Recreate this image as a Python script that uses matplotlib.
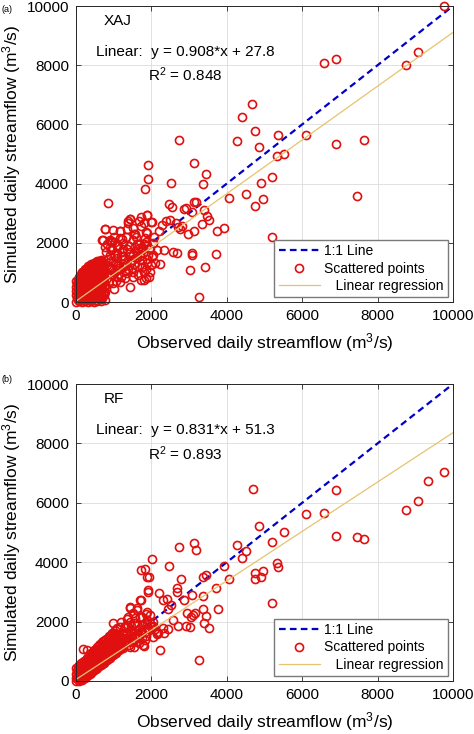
import matplotlib.pyplot as plt
import numpy as np

plt.rcParams['font.family'] = ['Liberation Sans', 'DejaVu Sans']
plt.rcParams['mathtext.default'] = 'regular'

# ---- XAJ panel: observed vs simulated daily streamflow (m3/s) ----
# dense cluster near the origin
xaj_core = [
    (10, 0), (15, 120), (5, 250), (12, 380), (8, 500), (18, 620), (10, 700),
    (85, 20), (80, 150), (90, 280), (85, 410), (78, 540), (92, 660), (85, 780), (88, 850),
    (160, 0), (165, 130), (155, 260), (162, 390), (158, 520), (170, 650), (160, 780), (150, 900), (165, 1000),
    (240, 30), (235, 160), (245, 290), (240, 420), (232, 550), (248, 680), (240, 810), (236, 940), (244, 1050), (250, 1100),
    (320, 0), (325, 130), (315, 260), (322, 390), (318, 520), (328, 650), (320, 780), (312, 910), (324, 1040), (318, 1150), (330, 1200),
    (400, 40), (395, 170), (405, 300), (400, 430), (392, 560), (408, 690), (400, 820), (396, 950), (404, 1080), (398, 1200), (410, 1280),
    (480, 10), (485, 140), (475, 270), (482, 400), (478, 530), (488, 660), (480, 790), (472, 920), (484, 1050), (478, 1180), (490, 1300), (470, 1330),
    (560, 50), (555, 180), (565, 310), (560, 440), (552, 570), (568, 700), (560, 830), (556, 960), (564, 1090), (558, 1220), (570, 1340), (550, 1400),
    (640, 100), (645, 230), (635, 360), (642, 490), (638, 620), (648, 750), (640, 880), (632, 1010), (644, 1140), (638, 1270), (650, 1400),
    (700, 150), (705, 300), (695, 450), (702, 600), (698, 750), (708, 900), (700, 1050), (692, 1200), (704, 1350),
    (760, 80), (770, 350), (775, 550),
    (45, 60), (48, 190), (42, 320), (46, 440), (44, 560), (50, 670), (45, 760),
    (120, 80), (125, 210), (118, 340), (122, 470), (120, 600), (126, 720), (118, 830), (122, 930),
    (200, 60), (205, 190), (198, 320), (202, 450), (200, 580), (206, 710), (198, 840), (204, 960), (200, 1050),
    (280, 90), (284, 220), (278, 350), (282, 480), (280, 610), (286, 740), (278, 870), (284, 990), (280, 1110),
    (360, 70), (364, 200), (358, 330), (362, 460), (360, 590), (366, 720), (358, 850), (364, 980), (360, 1100), (366, 1220),
    (440, 100), (444, 230), (438, 360), (442, 490), (440, 620), (446, 750), (438, 880), (444, 1010), (440, 1140), (446, 1250),
    (520, 80), (524, 210), (518, 340), (522, 470), (520, 600), (526, 730), (518, 860), (524, 990), (520, 1120), (526, 1250), (518, 1350),
    (600, 120), (604, 250), (598, 380), (602, 510), (600, 640), (606, 770), (598, 900), (604, 1030), (600, 1160), (606, 1290), (598, 1400),
    (670, 40), (674, 170), (668, 300), (672, 430), (670, 560), (676, 690), (668, 820), (674, 950), (670, 1080), (676, 1210), (668, 1340), (672, 1430),
    (735, 220), (738, 380), (732, 520), (736, 680), (734, 820), (740, 980), (732, 1120), (738, 1250),
]
# looser ring zone
xaj_mid = [
    (770, 2466), (699, 2095), (1168, 2399), (1389, 2658), (1434, 2793), (1681, 2725), (1726, 2860),
    (1876, 2939), (2000, 2703), (1867, 2354), (1549, 2297), (1363, 2455), (1221, 2128), (991, 2432),
    (903, 2095), (814, 1959), (947, 2038), (1106, 1892), (1257, 1802), (1434, 1700), (1566, 1869),
    (1743, 1779), (1876, 1926), (1611, 1475), (1478, 1419), (1257, 1554), (1080, 1644), (903, 1588),
    (1743, 1419), (1876, 1306), (2009, 1532), (2142, 1757), (1752, 1171), (1965, 1025), (1726, 734),
    (1858, 822), (1522, 856), (1345, 968), (1168, 687), (1434, 518), (991, 631), (1257, 1194), (1080, 1081),
    (850, 1450), (900, 1150), (950, 900), (980, 1350), (1030, 1600), (1060, 700), (1120, 1250),
    (1150, 950), (1200, 1550), (880, 700), (930, 1750), (1000, 450), (1250, 1300), (1300, 1050),
    (1350, 1800), (1420, 1550), (1480, 1150), (1550, 1300), (1620, 1650), (1680, 1950), (1100, 1900),
    (1180, 2150), (820, 1250), (860, 950), (800, 1700), (780, 1850), (950, 1150),
    (870, 1100), (920, 1400), (1000, 1000), (1050, 1300), (1100, 1500), (1150, 1150), (1200, 850),
    (1230, 1700), (1280, 1450), (1320, 1250), (1380, 1100), (1400, 1900), (1450, 1350), (1500, 1600),
    (1520, 1000), (1580, 1500), (1620, 1200), (1650, 1800), (1700, 1550), (1780, 1650), (1800, 1000),
    (1820, 2150), (1900, 1600), (1950, 1800), (1980, 1250), (2050, 1600), (1650, 900), (1300, 800),
    (1100, 850), (900, 1850), (1000, 2200), (1250, 2000), (1500, 2500), (1600, 2200),
]
# high flows / outliers
xaj_high = [
    (9770, 9990), (9071, 8435), (8752, 8018), (6584, 8074), (6903, 8209), (4681, 6689), (4407, 6250),
    (4752, 5766), (4283, 5428), (2726, 5462), (5354, 5642), (6088, 5642), (4850, 5236), (5336, 4944),
    (5522, 4989), (6885, 5349), (7637, 5462), (7442, 3592), (5204, 4223), (4912, 4032), (4956, 3491),
    (4752, 3232), (4504, 3637), (4053, 3502), (5212, 2196), (3124, 4707), (3442, 4336), (3372, 3998),
    (1920, 4640), (1903, 4167), (1832, 3829), (2513, 4032), (841, 3345), (2469, 3311), (2540, 3198),
    (3142, 3367), (3195, 3367), (3389, 3108), (2858, 3131), (2929, 3176), (3088, 3029), (3478, 2917),
    (3336, 2624), (3540, 2759), (3929, 2500), (3752, 2410), (3124, 2387), (2965, 2309), (2381, 2748),
    (2504, 2770), (2646, 2680), (2717, 2545), (2770, 2477), (2814, 2579), (3726, 1633), (3088, 1644),
    (3080, 1599), (3416, 1171), (3018, 1092), (3257, 180), (2673, 1667), (2566, 1700), (2336, 1757),
    (2239, 1284), (2097, 1306), (1947, 833), (1805, 743), (1885, 1441), (1850, 1115), (1761, 1194),
    (2283, 2601), (2204, 2399), (2080, 2185), (2053, 2005), (1885, 2342), (1850, 2016), (1814, 1971),
    (1752, 1869), (1611, 1971), (1885, 2950), (2027, 2703), (1805, 2680), (1735, 2579), (1558, 2286),
    (1381, 2725), (1434, 2815), (1168, 2387), (1327, 2196), (1504, 2106), (779, 2455), (708, 2083),
    (920, 2072), (1044, 2016), (956, 1779),
]

# ---- RF panel ----
rf_core = [
    (10, 0), (12, 110), (6, 220), (14, 330), (8, 440),
    (90, 10), (85, 130), (95, 250), (88, 370), (92, 490), (86, 550),
    (170, 30), (175, 150), (165, 270), (172, 390), (168, 510), (178, 630),
    (250, 110), (255, 230), (245, 350), (252, 470), (248, 590), (258, 720),
    (330, 200), (335, 320), (325, 440), (332, 560), (328, 680), (338, 800),
    (410, 280), (415, 400), (405, 520), (412, 640), (408, 760), (418, 880), (402, 930),
    (490, 370), (495, 490), (485, 610), (492, 730), (488, 850), (498, 970), (482, 1030),
    (570, 450), (575, 570), (565, 690), (572, 810), (568, 930), (578, 1050), (562, 1150),
    (650, 530), (655, 650), (645, 770), (652, 890), (648, 1010), (658, 1130), (642, 1250),
    (730, 620), (735, 740), (725, 860), (732, 980), (728, 1100), (738, 1220), (722, 1340),
    (810, 700), (815, 820), (805, 940), (812, 1060), (808, 1180), (818, 1300), (802, 1420),
    (890, 780), (895, 900), (885, 1020), (892, 1140), (888, 1260), (898, 1380), (882, 1500),
    (970, 870), (975, 990), (965, 1110), (972, 1230), (968, 1350), (978, 1470), (962, 1580),
    (1050, 950), (1055, 1070), (1045, 1190), (1052, 1310), (1048, 1430), (1058, 1550),
    (1130, 1040), (1135, 1160), (1125, 1280), (1132, 1400), (1128, 1500),
    (1200, 1120), (1205, 1250), (1195, 1380),
    (50, 60), (52, 170), (48, 280), (54, 390), (50, 480),
    (130, 70), (134, 190), (128, 310), (132, 430), (130, 550), (136, 600),
    (210, 90), (214, 210), (208, 330), (212, 450), (210, 570), (216, 680),
    (290, 160), (294, 280), (288, 400), (292, 520), (290, 640), (296, 760),
    (370, 240), (374, 360), (368, 480), (372, 600), (370, 720), (376, 840),
    (450, 330), (454, 450), (448, 570), (452, 690), (450, 810), (456, 930), (448, 980),
    (530, 410), (534, 530), (528, 650), (532, 770), (530, 890), (536, 1010), (528, 1090),
    (610, 490), (614, 610), (608, 730), (612, 850), (610, 970), (616, 1090), (608, 1200),
    (690, 580), (694, 700), (688, 820), (692, 940), (690, 1060), (696, 1180), (688, 1300),
    (770, 660), (774, 780), (768, 900), (772, 1020), (770, 1140), (776, 1260), (768, 1380),
    (850, 740), (854, 860), (848, 980), (852, 1100), (850, 1220), (856, 1340), (848, 1460),
    (930, 830), (934, 950), (928, 1070), (932, 1190), (930, 1310), (936, 1430), (928, 1540),
    (1010, 910), (1014, 1030), (1008, 1150), (1012, 1270), (1010, 1390), (1016, 1510), (1008, 1600),
    (1090, 1000), (1094, 1120), (1088, 1240), (1092, 1360), (1090, 1480), (1096, 1560),
    (1165, 1080), (1169, 1200), (1163, 1320), (1167, 1440),
]
rf_mid = [
    (1434, 2503), (1611, 2391), (1743, 2166), (1566, 2110), (1699, 2727), (1920, 3064), (1434, 1998),
    (1301, 1829), (1168, 1829), (1035, 1717), (947, 1605), (1876, 1773), (2009, 1829), (2142, 1661),
    (2053, 1493), (1832, 1380), (1611, 1493), (1460, 1661), (1673, 1268), (1434, 1156), (1788, 1212),
    (2186, 1605), (1522, 1380), (1965, 2222), (1832, 1941), (1212, 1605), (1080, 1493), (1301, 1437),
    (1743, 1661), (991, 1941), (1100, 1800), (1250, 1550), (1300, 1850), (1350, 1350), (1420, 1700),
    (1480, 1500), (1550, 1950), (1600, 1700), (1660, 1450), (1720, 1650), (1780, 1900), (1850, 1500),
    (1900, 1750), (1280, 1250), (1400, 1200), (1500, 1300), (1150, 1350), (1200, 2000), (1350, 2100),
    (1500, 2300), (1700, 2150), (1850, 2250), (1550, 1150), (1250, 1100), (1350, 1600),
    (1150, 1500), (1250, 1700), (1320, 1550), (1400, 1450), (1450, 1850), (1500, 1650), (1560, 1500),
    (1620, 1900), (1680, 1750), (1750, 1450), (1820, 1650), (1880, 2050), (1950, 1950), (2050, 2000),
    (2100, 1750), (1380, 1300), (1280, 1400),
]
rf_high = [
    (9770, 7027), (9336, 6723), (9071, 6047), (8752, 5766), (6903, 6441), (4690, 6475), (6584, 5653),
    (6088, 5631), (6885, 4887), (7442, 4865), (7637, 4797), (4850, 5225), (5522, 5011), (5204, 4673),
    (4283, 4572), (4504, 4381), (4398, 4133), (5327, 3964), (5345, 3829), (4956, 3716), (4752, 3626),
    (4912, 3491), (4735, 3423), (5212, 2624), (3929, 3874), (4053, 3435), (3717, 3119), (3761, 2432),
    (3531, 1768), (3407, 1937), (3451, 2196), (3381, 2410), (3451, 3581), (3363, 3514), (3372, 2872),
    (3142, 4662), (3177, 4414), (2726, 4505), (2018, 4110), (1841, 3761), (1726, 3739), (1876, 3502),
    (1929, 3491), (2460, 3885), (2796, 3423), (2673, 3119), (2858, 2725), (2673, 3007), (3071, 2894),
    (2407, 2748), (2212, 2973), (2301, 2725), (2513, 2556), (2434, 2421), (1920, 3007), (1717, 2725),
    (1434, 2466), (1628, 2443), (1876, 2309), (1372, 2140), (1566, 1959), (1876, 1937), (2053, 1847),
    (2301, 1791), (2451, 1745), (2584, 2050), (2717, 1847), (3027, 1824), (2912, 1847), (3159, 2275),
    (3053, 2162), (3097, 2218), (2938, 2275), (2239, 1059), (3257, 698), (1805, 1194), (2345, 1622),
    (2142, 1599), (195, 1092), (301, 1059),
]

models = ['XAJ', 'RF']
panel_tags = ['(a)', '(b)']
slopes = [0.908, 0.831]
intercepts = [27.8, 51.3]
r2_values = [0.848, 0.893]
ticks = [0, 2000, 4000, 6000, 8000, 10000]

point_sets = [xaj_core + xaj_mid + xaj_high, rf_core + rf_mid + rf_high]

red = '#E01010'
fig = plt.figure(figsize=(4.74, 7.34), dpi=100)
axes_rects = [[76 / 474, 1 - 302 / 734, 377 / 474, 296 / 734],
              [76 / 474, 1 - 681 / 734, 377 / 474, 297 / 734]]
tag_y = [1 - 10 / 734, 1 - 379 / 734]

for i in range(2):
    ax = fig.add_axes(axes_rects[i])
    pts = np.array(point_sets[i], dtype=float)
    line_x = np.array([0, 10000])

    # 1:1 line, then points, then the fitted line on top
    ax.plot(line_x, line_x, color='#0000C8', lw=1.6, dashes=(3.0, 1.9), label='1:1 Line')
    ax.plot(pts[:, 0], pts[:, 1], 'o', mfc='none', mec=red, ms=5.8, mew=1.2,
            clip_on=False, label='Scattered points')
    ax.plot(line_x, slopes[i] * line_x + intercepts[i], color='#E6C46E', lw=0.9,
            label='   Linear regression')

    ax.set_xlim(0, 10000)
    ax.set_ylim(0, 10000)
    ax.set_xticks(ticks)
    ax.set_yticks(ticks)
    ax.grid(True, color='#DCDCDC', lw=0.6)
    ax.set_axisbelow(True)
    ax.tick_params(direction='in', length=3.5, width=0.6, color='#262626',
                   labelsize=11, top=True, right=True, pad=5)
    for sp in ax.spines.values():
        sp.set_color('#262626')
        sp.set_linewidth(0.7)

    ax.set_xlabel('Observed daily streamflow (m$^3$/s)', fontsize=12.5, labelpad=6)
    ax.set_ylabel('Simulated daily streamflow (m$^3$/s)', fontsize=12.5)
    ax.yaxis.set_label_coords(-0.14, 0.5)

    ax.text(740, 9480, models[i], fontsize=11, va='center')
    ax.text(530, 8440, 'Linear:  y = %.3f*x + %.1f' % (slopes[i], intercepts[i]),
            fontsize=11, va='center')
    ax.text(1900, 7670, 'R$^2$ = %.3f' % r2_values[i], fontsize=11, va='center')

    leg = ax.legend(loc='lower right', fontsize=10, handlelength=3.0, handletextpad=0.3,
                    labelspacing=0.25, borderaxespad=0.35, fancybox=False,
                    framealpha=1, borderpad=0.3)
    leg.get_frame().set_edgecolor('#7A7A7A')
    leg.get_frame().set_linewidth(1.0)

    fig.text(2 / 474, tag_y[i], panel_tags[i], fontsize=6.5, va='center')

fig.savefig('out.png', dpi=100)
